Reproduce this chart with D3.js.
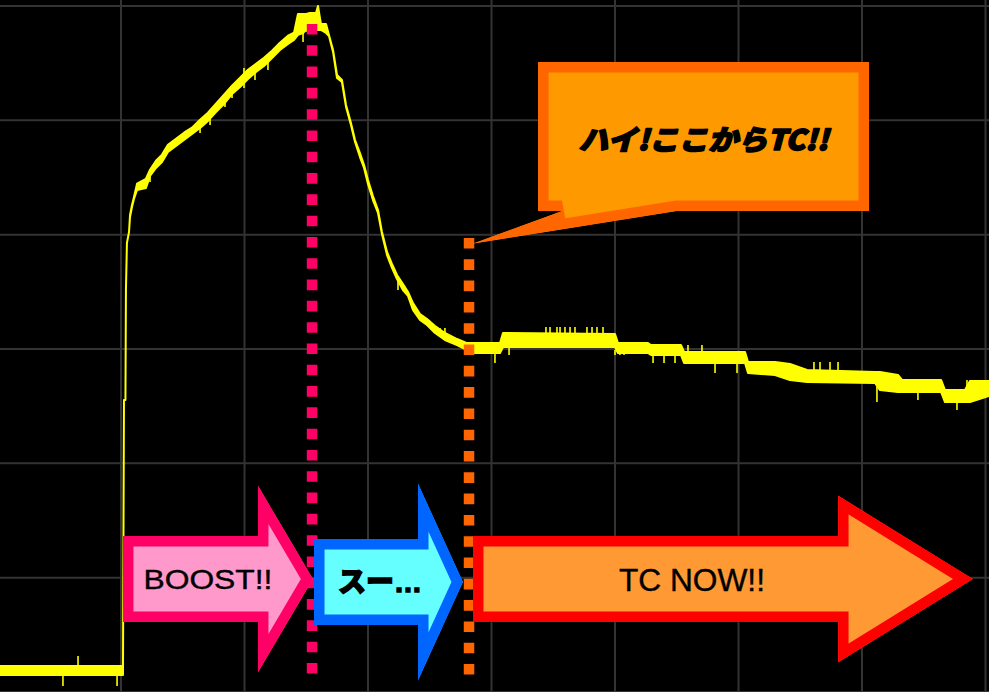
<!DOCTYPE html>
<html>
<head>
<meta charset="utf-8">
<script src="https://cdn.jsdelivr.net/npm/d3@7"></script>
<style>
  html, body { margin: 0; padding: 0; background: #000; overflow: hidden; }
</style>
</head>
<body>
<div class="main"></div>
<script>
// Trace, in grid divisions (x: 0..8, y: 0..6)
// hi / lo = top and bottom of the noisy band at each time
const traceT  = [0, 1.016, 1.024, 1.036, 1.04, 1.048, 1.065, 1.073, 1.089, 1.105, 1.13, 1.202, 1.235, 1.283, 1.332, 1.38, 1.445, 1.51, 1.575, 1.64, 1.704, 1.769, 1.834, 1.899, 1.964, 2.028, 2.093, 2.158, 2.223, 2.287, 2.352, 2.401, 2.433, 2.474, 2.498, 2.53, 2.579, 2.595, 2.619, 2.66, 2.684, 2.717, 2.749, 2.789, 2.822, 2.862, 2.895, 2.935, 2.968, 3.0, 3.04, 3.081, 3.113, 3.154, 3.194, 3.235, 3.283, 3.324, 3.364, 3.421, 3.478, 3.543, 3.623, 3.721, 3.802, 3.85, 4.069, 4.093, 5.0, 5.024, 5.267, 5.291, 5.534, 5.559, 6.053, 6.077, 6.296, 6.417, 6.555, 7.105, 7.146, 7.291, 7.324, 7.64, 7.672, 7.834, 7.874, 8.03];
const traceHi = [0.227, 0.227, 2.554, 2.554, 3.516, 3.927, 4.023, 4.172, 4.26, 4.33, 4.446, 4.489, 4.568, 4.647, 4.70, 4.787, 4.839, 4.892, 4.936, 5.006, 5.067, 5.146, 5.224, 5.303, 5.373, 5.443, 5.495, 5.548, 5.609, 5.679, 5.74, 5.767, 5.93, 5.93, 5.93, 5.939, 5.939, 6.0, 5.843, 5.843, 5.747, 5.615, 5.397, 5.353, 5.134, 4.977, 4.828, 4.714, 4.609, 4.478, 4.338, 4.216, 4.023, 3.849, 3.744, 3.647, 3.569, 3.499, 3.402, 3.306, 3.262, 3.201, 3.14, 3.087, 3.052, 3.052, 3.052, 3.14, 3.131, 3.052, 3.052, 3.035, 3.035, 2.974, 2.974, 2.886, 2.886, 2.869, 2.816, 2.799, 2.799, 2.773, 2.729, 2.729, 2.641, 2.641, 2.72, 2.72];
const traceLo = [0.149, 0.149, 2.554, 2.554, 3.516, 3.927, 4.023, 4.155, 4.242, 4.312, 4.391, 4.408, 4.513, 4.583, 4.636, 4.723, 4.776, 4.828, 4.881, 4.933, 4.995, 5.073, 5.143, 5.23, 5.292, 5.362, 5.423, 5.475, 5.545, 5.615, 5.668, 5.703, 5.747, 5.764, 5.79, 5.764, 5.79, 5.79, 5.79, 5.764, 5.738, 5.598, 5.37, 5.335, 5.117, 4.959, 4.811, 4.679, 4.583, 4.443, 4.303, 4.19, 4.006, 3.822, 3.709, 3.612, 3.516, 3.464, 3.341, 3.254, 3.21, 3.14, 3.079, 3.035, 2.991, 2.965, 2.965, 3.018, 3.018, 2.965, 2.965, 2.948, 2.948, 2.878, 2.878, 2.79, 2.773, 2.729, 2.711, 2.703, 2.641, 2.624, 2.624, 2.624, 2.536, 2.536, 2.536, 2.589];

// single-sample glitches: time, from, to
const spikeT = [0.53, 0.652, 0.968, 1.235, 1.64, 1.721, 1.842, 1.899, 1.996, 2.085, 2.19, 2.474, 3.243, 3.583, 3.623, 4.028, 4.142, 4.441, 4.474, 4.53, 4.555, 4.595, 4.636, 4.676, 4.773, 4.814, 4.854, 4.903, 5.0, 5.04, 5.073, 5.308, 5.397, 5.486, 5.591, 5.704, 5.81, 5.988, 6.611, 6.66, 6.741, 6.806, 7.121, 7.453, 7.769, 7.85];
const spikeA = [0.149, 0.227, 0.149, 4.566, 5.003, 5.064, 5.195, 5.283, 5.458, 5.44, 5.528, 5.764, 3.604, 3.184, 3.184, 2.991, 3.018, 3.123, 3.123, 3.123, 3.123, 3.123, 3.123, 3.123, 3.123, 3.123, 3.123, 3.123, 2.991, 2.991, 2.991, 2.948, 2.948, 2.948, 2.974, 2.974, 2.878, 2.878, 2.799, 2.799, 2.799, 2.799, 2.703, 2.624, 2.536, 2.641];
const spikeB = [0.052, 0.315, 0.052, 4.461, 4.889, 4.959, 5.117, 5.195, 5.283, 5.353, 5.44, 5.685, 3.516, 3.122, 3.122, 2.878, 2.948, 3.192, 3.192, 3.192, 3.192, 3.192, 3.192, 3.192, 3.192, 3.192, 3.192, 3.192, 2.948, 2.948, 2.948, 2.878, 2.878, 2.878, 3.035, 3.035, 2.79, 2.79, 2.886, 2.886, 2.886, 2.886, 2.536, 2.554, 2.466, 2.729];

// grid divisions
const xTicks = [0, 1, 2, 3, 4, 5, 6, 7, 8];
const yTicks = [0, 1, 2, 3, 4, 5, 6];

// dotted markers
const markerT      = [2.547, 3.818];
const markerTop    = [5.843, 3.971];
const markerBottom = [0.14, 0.14];
const markerColor  = ["#ff0066", "#ff6600"];

// phase arrows
const phaseLabel  = ["BOOST!!", "スー…", "TC NOW!!"];
const phaseStart  = [1.016, 2.563, 3.85];
const phaseHead   = [2.109, 3.405, 6.806];
const phaseEnd    = [2.555, 3.769, 7.899];
const phaseLevel  = [0.988, 0.962, 0.988];
const phaseLabelT = [1.704, 3.097, 5.623];

// callout
const calloutText = "ハイ!ここからTC!!";

// ---- styles ----
const arrowStyle = [
  { fill: "#ff99cc", border: "#ff0066", body: 43, head: 93.5, font: "'Liberation Sans', Arial, sans-serif", size: 28, weight: 400, dy: 10, len: 129, bold: 0.4 },
  { fill: "#66ffff", border: "#0066ff", body: 43, head: 98.5, font: "'Liberation Sans', 'Noto Sans CJK JP', sans-serif", size: 28, weight: 900, dy: 10, len: 84, bold: 1.4 },
  { fill: "#ff9933", border: "#ff0000", body: 43, head: 83.5, font: "'Liberation Sans', Arial, sans-serif", size: 32, weight: 400, dy: 12, len: 146, bold: 0.4 }
];
const borderW = 10.5;

const width = 989, height = 692;

const x = d3.scaleLinear().domain([0, 8]).range([-2.5, 985.5]);
const y = d3.scaleLinear().domain([0, 6]).range([692, 6]);

const svg = d3.select('.main').append('svg')
    .attr("width", width)
    .attr("height", height)
    .style("display", "block")
    .style("background", "#000");

// grid
svg.append("g").selectAll("line").data(xTicks).enter().append("line")
    .attr("x1", d => x(d)).attr("x2", d => x(d))
    .attr("y1", 0).attr("y2", height)
    .attr("stroke", "#333").attr("stroke-width", 2);
svg.append("g").selectAll("line").data(yTicks).enter().append("line")
    .attr("x1", 0).attr("x2", width)
    .attr("y1", d => y(d)).attr("y2", d => y(d))
    .attr("stroke", "#333").attr("stroke-width", 2);

// trace band
const trace = traceT.map((t, i) => ({ t: t, hi: traceHi[i], lo: traceLo[i] }));
const band = d3.area()
    .x(d => x(d.t))
    .y0(d => y(d.lo))
    .y1(d => y(d.hi));

svg.append("path")
    .datum(trace)
    .attr("d", band)
    .attr("fill", "#ffff00")
    .attr("stroke", "#ffff00")
    .attr("stroke-width", 2)
    .attr("stroke-linejoin", "round");

// glitches
svg.append("g").selectAll("line").data(spikeT).enter().append("line")
    .attr("x1", d => x(d)).attr("x2", d => x(d))
    .attr("y1", (d, i) => y(spikeA[i]))
    .attr("y2", (d, i) => y(spikeB[i]))
    .attr("stroke", "#ffff00")
    .attr("stroke-width", 1.6);

// dotted markers
svg.append("g").selectAll("line").data(markerT).enter().append("line")
    .attr("x1", d => x(d)).attr("x2", d => x(d))
    .attr("y1", (d, i) => y(markerTop[i]))
    .attr("y2", (d, i) => y(markerBottom[i]))
    .attr("stroke", (d, i) => markerColor[i])
    .attr("stroke-width", 10.5)
    .attr("stroke-dasharray", "10.6,10.7");

const defs = svg.append("defs");

// bordered shape: stroke doubled and clipped to the shape, so the border sits inside
function bordered(id, pathD, fill, border) {
    defs.append("clipPath").attr("id", id).append("path").attr("d", pathD);
    svg.append("path")
        .attr("d", pathD)
        .attr("fill", fill)
        .attr("stroke", border)
        .attr("stroke-width", borderW * 2)
        .attr("stroke-linejoin", "miter")
        .attr("clip-path", "url(#" + id + ")");
}

// phase arrows
phaseLabel.forEach(function(label, i) {
    const s = arrowStyle[i];
    const x0 = x(phaseStart[i]), xh = x(phaseHead[i]), x1 = x(phaseEnd[i]);
    const yc = y(phaseLevel[i]);
    const p = d3.path();
    p.moveTo(x0, yc - s.body);
    p.lineTo(xh, yc - s.body);
    p.lineTo(xh, yc - s.head);
    p.lineTo(x1, yc);
    p.lineTo(xh, yc + s.head);
    p.lineTo(xh, yc + s.body);
    p.lineTo(x0, yc + s.body);
    p.closePath();
    bordered("arrow" + i, p.toString(), s.fill, s.border);

    svg.append("text")
        .attr("x", x(phaseLabelT[i]))
        .attr("y", yc + s.dy)
        .attr("text-anchor", "middle")
        .attr("font-family", s.font)
        .attr("font-size", s.size)
        .attr("font-weight", s.weight)
        .attr("textLength", s.len)
        .attr("lengthAdjust", "spacingAndGlyphs")
        .attr("fill", "#000")
        .attr("stroke", "#000")
        .attr("stroke-width", s.bold)
        .text(label);
});

// callout box with tail pointing at the TC marker
const cx0 = x(4.377), cx1 = x(7.057), cy0 = y(5.51), cy1 = y(4.207);
const tailA = x(4.571), tailB = x(5.502);
const tipX = x(3.845), tipY = y(3.92);
const cp = d3.path();
cp.moveTo(cx0, cy0);
cp.lineTo(cx1, cy0);
cp.lineTo(cx1, cy1);
cp.lineTo(tailB, cy1);
cp.lineTo(tipX, tipY);
cp.lineTo(tailA, cy1);
cp.lineTo(cx0, cy1);
cp.closePath();
bordered("callout", cp.toString(), "#ff9900", "#ff6600");

svg.append("text")
    .attr("x", (cx0 + cx1) / 2)
    .attr("y", (cy0 + cy1) / 2 + 1)
    .attr("text-anchor", "middle")
    .attr("dominant-baseline", "central")
    .attr("font-family", "'Noto Sans CJK JP', sans-serif")
    .attr("font-size", 28)
    .attr("font-weight", 900)
    .attr("font-style", "italic")
    .attr("textLength", 250)
    .attr("lengthAdjust", "spacingAndGlyphs")
    .attr("fill", "#000")
    .attr("stroke", "#000")
    .attr("stroke-width", 1.6)
    .attr("stroke-linejoin", "round")
    .text(calloutText);
</script>
</body>
</html>
